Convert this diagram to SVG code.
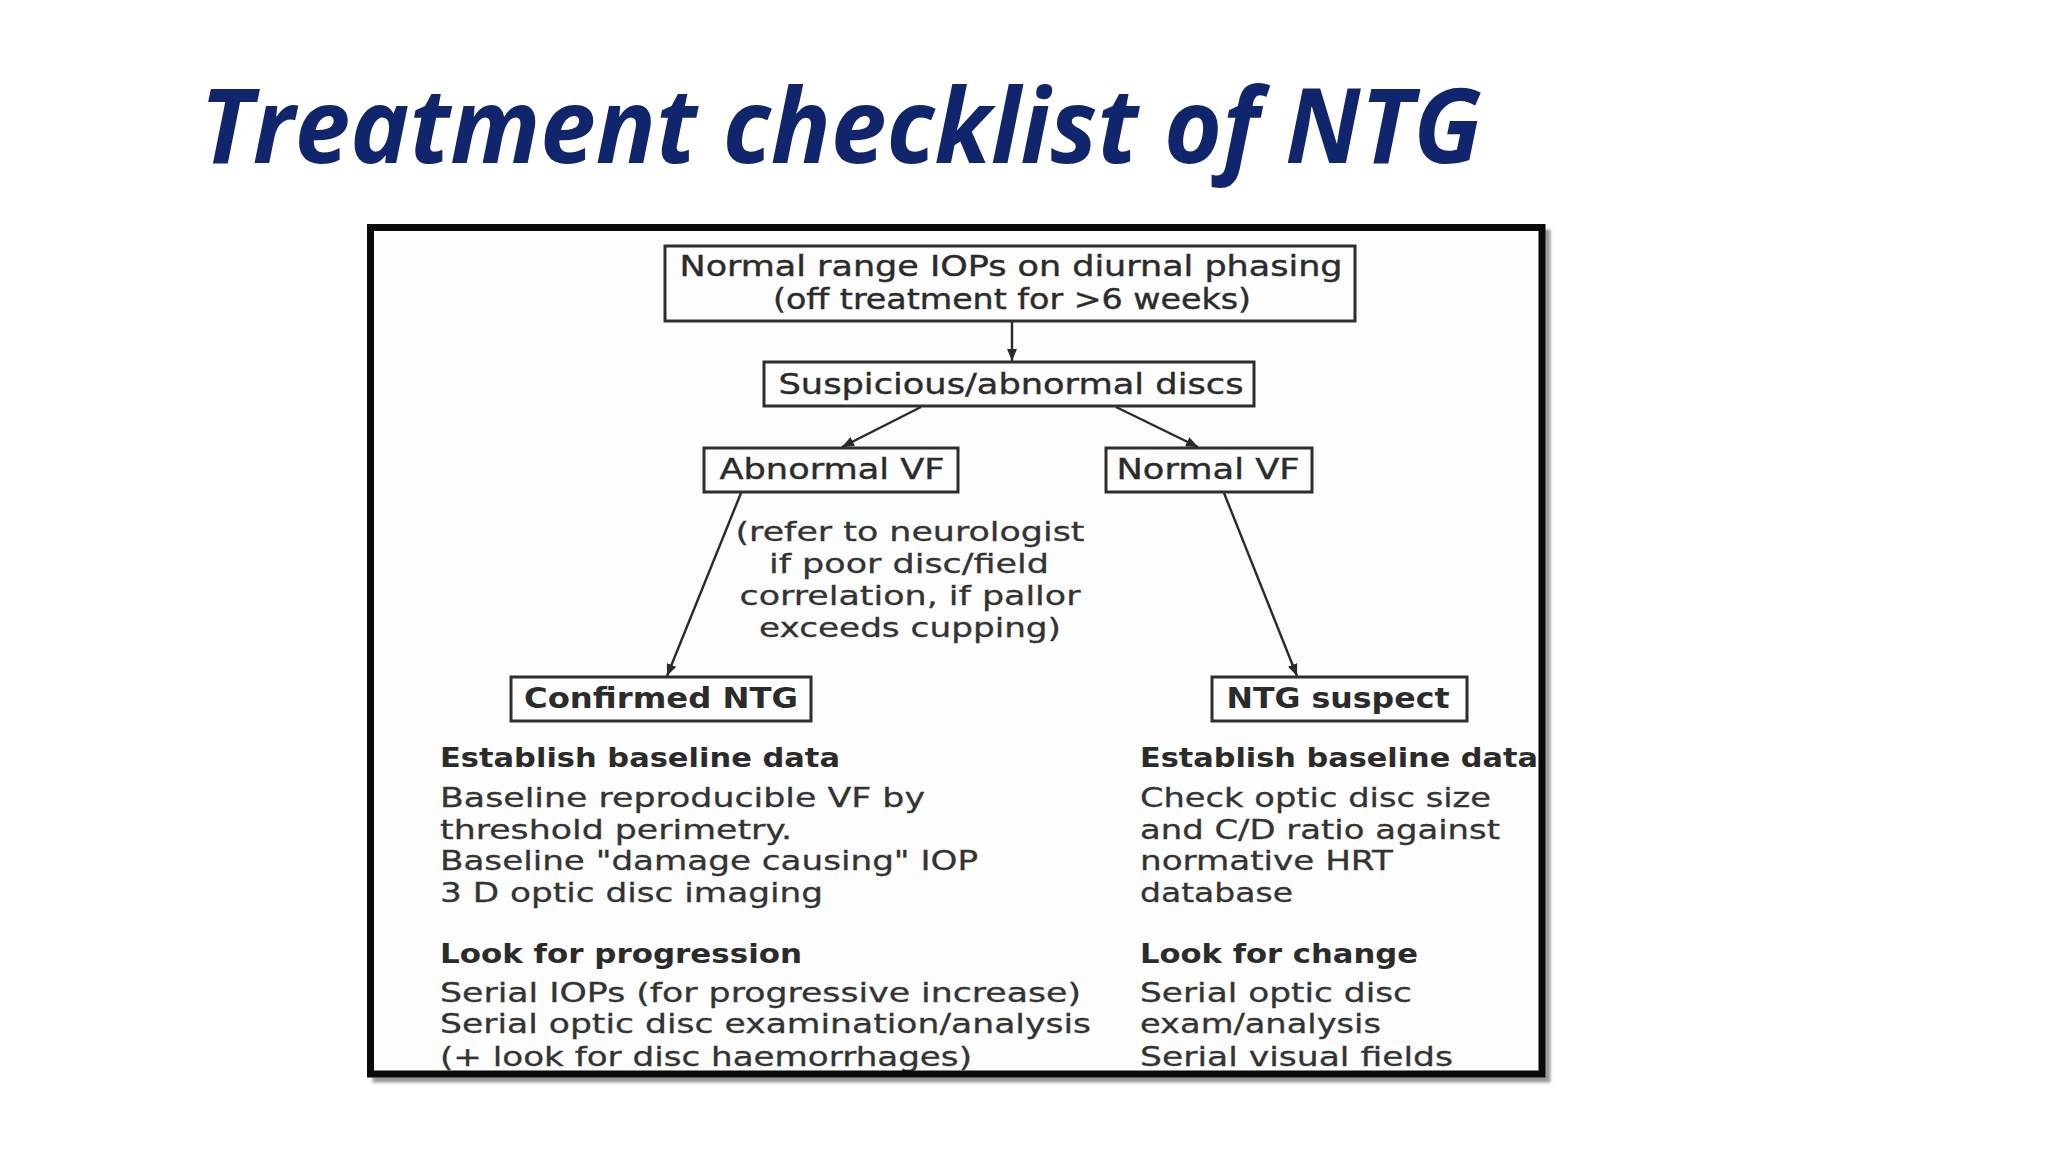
<svg xmlns="http://www.w3.org/2000/svg" width="2048" height="1152" viewBox="0 0 2048 1152">
  <defs>
    <marker id="ah" markerUnits="userSpaceOnUse" markerWidth="12" markerHeight="10" refX="12" refY="5" orient="auto">
      <path d="M0,0 L12,5 L0,10 z" fill="#2a2a2a"/>
    </marker>
    <filter id="blur" x="-5%" y="-5%" width="110%" height="110%">
      <feGaussianBlur stdDeviation="1.5"/>
    </filter>
    <style>
      .title { font-family: "Open Sans", "Liberation Sans", sans-serif; font-weight: 700; font-style: italic; font-size: 104px; fill: #10256b; }
      .box { fill: none; stroke: #2e2e2e; stroke-width: 3; }
      .lbl { font-family: "DejaVu Sans", "Liberation Sans", sans-serif; font-size: 28px; fill: #2b2b2b; stroke: #2b2b2b; stroke-width: 0.4; text-anchor: middle; }
      .lblb { font-family: "DejaVu Sans", "Liberation Sans", sans-serif; font-size: 28px; font-weight: 700; fill: #2b2b2b; text-anchor: middle; }
      .note { font-family: "DejaVu Sans", "Liberation Sans", sans-serif; font-size: 27px; fill: #333; stroke: #333; stroke-width: 0.3; text-anchor: middle; }
      .head { font-family: "DejaVu Sans", "Liberation Sans", sans-serif; font-size: 27px; font-weight: 700; fill: #2b2b2b; }
      .body { font-family: "DejaVu Sans", "Liberation Sans", sans-serif; font-size: 27px; fill: #333; stroke: #333; stroke-width: 0.3; }
      .conn { stroke: #2a2a2a; stroke-width: 2.4; fill: none; marker-end: url(#ah); }
    </style>
  </defs>

  <rect x="0" y="0" width="2048" height="1152" fill="#ffffff"/>

  <text class="title" x="200" y="163" textLength="1282" lengthAdjust="spacingAndGlyphs">Treatment checklist of NTG</text>

  <g id="frame">
    <rect x="376" y="233" width="1171" height="846" fill="none" stroke="#9a9a9a" stroke-width="7" filter="url(#blur)"/>
    <rect x="370.5" y="227.5" width="1171.5" height="846.5" fill="#fdfdfd" stroke="none"/>
  </g>

  <g id="node-top">
    <rect class="box" x="665" y="246" width="690" height="75"/>
    <text class="lbl" x="1011" y="276" textLength="663" lengthAdjust="spacingAndGlyphs">Normal range IOPs on diurnal phasing</text>
    <text class="lbl" x="1012" y="309" textLength="478" lengthAdjust="spacingAndGlyphs">(off treatment for &gt;6 weeks)</text>
  </g>

  <g id="node-suspicious">
    <rect class="box" x="764" y="362" width="490" height="44"/>
    <text class="lbl" x="1011" y="394" textLength="465" lengthAdjust="spacingAndGlyphs">Suspicious/abnormal discs</text>
  </g>

  <g id="node-abnormal-vf">
    <rect class="box" x="704" y="448" width="254" height="44"/>
    <text class="lbl" x="832" y="479" textLength="225" lengthAdjust="spacingAndGlyphs">Abnormal VF</text>
  </g>

  <g id="node-normal-vf">
    <rect class="box" x="1106" y="448" width="206" height="44"/>
    <text class="lbl" x="1208" y="479" textLength="183" lengthAdjust="spacingAndGlyphs">Normal VF</text>
  </g>

  <g id="note">
    <text class="note" x="910" y="541" textLength="349" lengthAdjust="spacingAndGlyphs">(refer to neurologist</text>
    <text class="note" x="909" y="573" textLength="280" lengthAdjust="spacingAndGlyphs">if poor disc/field</text>
    <text class="note" x="910" y="605" textLength="341" lengthAdjust="spacingAndGlyphs">correlation, if pallor</text>
    <text class="note" x="910" y="637" textLength="302" lengthAdjust="spacingAndGlyphs">exceeds cupping)</text>
  </g>

  <g id="node-confirmed-ntg">
    <rect class="box" x="511" y="677" width="300" height="44"/>
    <text class="lblb" x="661" y="708" textLength="274" lengthAdjust="spacingAndGlyphs">Confirmed NTG</text>
  </g>

  <g id="node-ntg-suspect">
    <rect class="box" x="1212" y="677" width="255" height="44"/>
    <text class="lblb" x="1338" y="708" textLength="223" lengthAdjust="spacingAndGlyphs">NTG suspect</text>
  </g>

  <g id="left-column">
    <text class="head" x="440" y="767" textLength="400" lengthAdjust="spacingAndGlyphs">Establish baseline data</text>
    <text class="body" x="440" y="807" textLength="485" lengthAdjust="spacingAndGlyphs">Baseline reproducible VF by</text>
    <text class="body" x="440" y="839" textLength="352" lengthAdjust="spacingAndGlyphs">threshold perimetry.</text>
    <text class="body" x="440" y="870" textLength="538" lengthAdjust="spacingAndGlyphs">Baseline "damage causing" IOP</text>
    <text class="body" x="440" y="902" textLength="383" lengthAdjust="spacingAndGlyphs">3 D optic disc imaging</text>
    <text class="head" x="440" y="963" textLength="362" lengthAdjust="spacingAndGlyphs">Look for progression</text>
    <text class="body" x="440" y="1002" textLength="641" lengthAdjust="spacingAndGlyphs">Serial IOPs (for progressive increase)</text>
    <text class="body" x="440" y="1033" textLength="651" lengthAdjust="spacingAndGlyphs">Serial optic disc examination/analysis</text>
    <text class="body" x="440" y="1066" textLength="532" lengthAdjust="spacingAndGlyphs">(+ look for disc haemorrhages)</text>
  </g>

  <g id="right-column">
    <text class="head" x="1140" y="767" textLength="398" lengthAdjust="spacingAndGlyphs">Establish baseline data</text>
    <text class="body" x="1140" y="807" textLength="351" lengthAdjust="spacingAndGlyphs">Check optic disc size</text>
    <text class="body" x="1140" y="839" textLength="360" lengthAdjust="spacingAndGlyphs">and C/D ratio against</text>
    <text class="body" x="1140" y="870" textLength="253" lengthAdjust="spacingAndGlyphs">normative HRT</text>
    <text class="body" x="1140" y="902" textLength="153" lengthAdjust="spacingAndGlyphs">database</text>
    <text class="head" x="1140" y="963" textLength="278" lengthAdjust="spacingAndGlyphs">Look for change</text>
    <text class="body" x="1140" y="1002" textLength="272" lengthAdjust="spacingAndGlyphs">Serial optic disc</text>
    <text class="body" x="1140" y="1033" textLength="241" lengthAdjust="spacingAndGlyphs">exam/analysis</text>
    <text class="body" x="1140" y="1066" textLength="313" lengthAdjust="spacingAndGlyphs">Serial visual fields</text>
  </g>

  <g id="connectors">
    <line class="conn" x1="1012" y1="322" x2="1012" y2="361"/>
    <line class="conn" x1="921" y1="407" x2="842" y2="447"/>
    <line class="conn" x1="1116" y1="407" x2="1198" y2="447"/>
    <line class="conn" x1="741" y1="493" x2="667" y2="676"/>
    <line class="conn" x1="1224" y1="493" x2="1297" y2="676"/>
  </g>

  <rect id="frame-border" x="370.5" y="227.5" width="1171.5" height="846.5" fill="none" stroke="#0a0a0a" stroke-width="7"/>
</svg>
